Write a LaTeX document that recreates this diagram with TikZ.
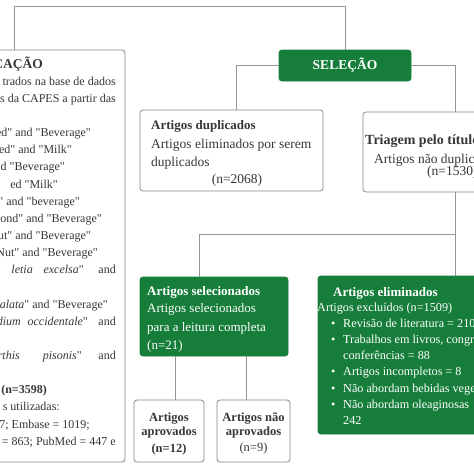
\documentclass[tikz,border=0pt]{standalone}
\usepackage{fontspec}
\setmainfont{Liberation Serif}[Ligatures=TeXOff]
\usetikzlibrary{positioning,calc}
\definecolor{selgreen}{RGB}{22,126,58}
\definecolor{linegray}{RGB}{150,150,150}
\definecolor{boxgray}{RGB}{135,135,135}
\definecolor{textgray}{RGB}{55,55,55}

\begin{document}
\begin{tikzpicture}[x=1pt, y=-1pt,
  box/.style={rectangle, rounded corners=3pt, draw=boxgray, line width=0.8pt, fill=white, inner sep=0pt},
  gbox/.style={box, draw=selgreen, fill=selgreen},
  conn/.style={draw=linegray, line width=0.9pt},
  txt/.style={inner sep=0pt, text=textgray, font=\fontsize{13.5}{18}\selectfont},
  btxt/.style={inner sep=0pt, text=textgray, font=\fontsize{13}{18}\selectfont\bfseries},
  ltxt/.style={inner sep=0pt, text=textgray, font=\fontsize{12}{17}\selectfont, anchor=base east},
  wtxt/.style={inner sep=0pt, text=white, font=\fontsize{12.2}{16}\selectfont},
  wbtxt/.style={inner sep=0pt, text=white, font=\fontsize{13}{16}\selectfont\bfseries},
  stxt/.style={inner sep=0pt, text=textgray, font=\fontsize{12.5}{15}\selectfont\bfseries}
]
\useasboundingbox (0,0) rectangle (474,474);
\fill[white] (0,0) rectangle (474,474);
\clip (0,0) rectangle (474,474);

% Boxes
\node[box, minimum width=222pt, minimum height=412pt] (ident) at (14,256) {};
\node[gbox, minimum width=132pt, minimum height=31pt, text=white,
      font=\fontsize{13.5}{16}\selectfont\bfseries] (sel) at (345,65.5) {SELEÇÃO};
\node[box, minimum width=183pt, minimum height=81pt] (dup) at (231.5,150.5) {};
\node[box, minimum width=184pt, minimum height=80pt] (tri) at (455,152) {};
\node[gbox, minimum width=148pt, minimum height=79pt] (selc) at (214,316.5) {};
\node[gbox, minimum width=274pt, minimum height=158pt] (elim) at (455,355) {};
\node[box, minimum width=70pt, minimum height=62pt] (aprov) at (169,431) {};
\node[box, minimum width=73pt, minimum height=62pt] (naoap) at (253.5,431) {};

% Connectors
\coordinate (top) at (0,6);
\coordinate (split) at (455,234);
\draw[conn] (ident.north) -- (ident.north |- top) -| (sel.north);
\draw[conn] (sel.west) -| ([xshift=4.5pt]dup.north);
\draw[conn] (sel.east) -| (tri.north);
\draw[conn] (tri.south) -- (elim.north);
\draw[conn] (split) -| ([xshift=-15pt]selc.north);
\draw[conn] ([xshift=-39pt]selc.south) -- ([xshift=-39pt]selc.south |- aprov.north);
\draw[conn] ([xshift=32pt]selc.south) -- ([xshift=32pt]selc.south |- naoap.north);

% Identificacao text
\node[ltxt, font=\fontsize{13.5}{18}\selectfont\bfseries] (idT) at (43,68.5) {CAÇÃO};
\node[ltxt] (id1) at (116,85.1) {trados na base de dados};
\node[ltxt] (id2) at (116,102.3) {s da CAPES a partir das};
\node[ltxt] (id4) at (91,136.6) {ed" and "Beverage"};
\node[ltxt] (id5) at (72,153.7) {ed" and "Milk"};
\node[ltxt] (id6) at (65,170.8) {d "Beverage"};
\node[ltxt] (id7) at (58,188) {ed "Milk"};
\node[ltxt] (id8) at (80,205.1) {" and "beverage"};
\node[ltxt] (id9) at (102,222.3) {ond" and "Beverage"};
\node[ltxt] (id10) at (91,239.4) {ut" and "Beverage"};
\node[ltxt] (id11) at (98,256.5) {Nut" and "Beverage"};
\node[ltxt] (id12a) at (33,273.7) {\textit{letia}};
\node[ltxt] (id12b) at (84,273.7) {\textit{excelsa}"};
\node[ltxt] (id12c) at (116,273.7) {and};
\node[ltxt] (id14) at (108,308) {\textit{alata}" and "Beverage"};
\node[ltxt] (id15a) at (21,325.1) {\textit{dium}};
\node[ltxt] (id15b) at (88,325.1) {\textit{occidentale}"};
\node[ltxt] (id15c) at (116,325.1) {and};
\node[ltxt] (id17a) at (20,359.4) {\textit{rthis}};
\node[ltxt] (id17b) at (82,359.4) {\textit{pisonis}"};
\node[ltxt] (id17c) at (116,359.4) {and};
\node[ltxt, font=\fontsize{12}{17}\selectfont\bfseries] (id19) at (47,393.7) {(n=3598)};
\node[ltxt] (id20) at (60,410.8) {s utilizadas:};
\node[ltxt] (id21) at (90,428) {7; Embase = 1019;};
\node[ltxt] (id22) at (116,445.1) {e = 863; PubMed = 447 e};

% Duplicados
\node[btxt, anchor=base west] (dupT) at (151,129.5) {Artigos duplicados};
\node[txt, anchor=base west] (dup1) at (151,148.5) {Artigos eliminados por serem};
\node[txt, anchor=base west] (dup2) at (151,166.5) {duplicados};
\node[txt, anchor=base] (dupN) at (237,183.5) {(n=2068)};

% Triagem
\node[btxt, font=\fontsize{14}{18}\selectfont\bfseries, anchor=base west] (triT) at (365,144.5) {Triagem pelo título};
\node[txt, anchor=base west] (tri1) at (374,163.5) {Artigos não duplicados};
\node[txt, anchor=base west] (triN) at (427,175.5) {(n=1530)};

% Selecionados
\node[wbtxt, anchor=base west] (selcT) at (147,295.5) {Artigos selecionados};
\node[wtxt, font=\fontsize{13}{16}\selectfont, anchor=base west] (selc1) at (147,312.5) {Artigos selecionados};
\node[wtxt, font=\fontsize{13}{16}\selectfont, anchor=base west] (selc2) at (147,331.5) {para a leitura completa};
\node[wtxt, font=\fontsize{13}{16}\selectfont, anchor=base west] (selcN) at (147,349.5) {(n=21)};

% Eliminados
\node[wbtxt, anchor=base west] (elimT) at (333,296.5) {Artigos eliminados};
\node[wtxt, anchor=base west] (elim0) at (317,311.5) {Artigos excluídos (n=1509)};
\foreach \k/\t in {0/Revisão de literatura = 210, 1/{Trabalhos em livros, congressos e},
    3/Artigos incompletos = 8, 4/Não abordam bebidas vegetais, 5/Não abordam oleaginosas}{
  \node[wtxt, anchor=base west] (elimB\k) at (331,327+16.3*\k) {\textbullet};
  \node[wtxt, anchor=base west] (elim\k) at (343,327+16.3*\k) {\t};
}
\node[wtxt, anchor=base west] (elim2) at (343,359.6) {conferências = 88};
\node[wtxt, anchor=base west] (elim6) at (343,424.8) {242};

% Aprovados / nao aprovados
\node[stxt, anchor=base] (aprov1) at (169,421) {Artigos};
\node[stxt, anchor=base] (aprov2) at (169,435) {aprovados};
\node[stxt, anchor=base] (aprovN) at (169,452) {(n=12)};
\node[stxt, anchor=base] (naoap1) at (253.5,421) {Artigos não};
\node[stxt, anchor=base] (naoap2) at (253.5,435) {aprovados};
\node[stxt, font=\fontsize{12.5}{15}\selectfont, anchor=base] (naoapN) at (253.5,451) {(n=9)};
\end{tikzpicture}
\end{document}
